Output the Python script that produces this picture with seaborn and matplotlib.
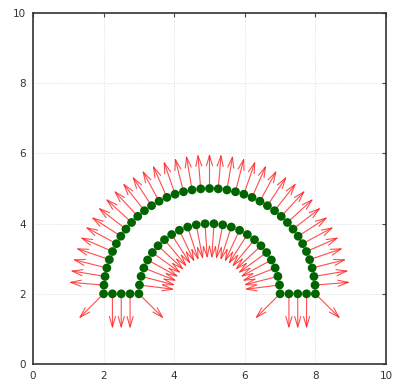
import matplotlib
matplotlib.use("Agg")
import matplotlib.pyplot as plt
import seaborn as sns
import pandas as pd

# boundary points of the arch (outer arc, inner arc, bottom feet)
outer_x = [2.000, 2.010, 2.041, 2.092, 2.163, 2.253, 2.362, 2.488, 2.633, 2.793,
           2.968, 3.157, 3.359, 3.572, 3.795, 4.026, 4.264, 4.506, 4.752, 5.000,
           5.248, 5.494, 5.736, 5.974, 6.205, 6.428, 6.641, 6.843, 7.032, 7.207,
           7.367, 7.512, 7.638, 7.747, 7.837, 7.908, 7.959, 7.990, 8.000]
outer_y = [2.000, 2.248, 2.494, 2.736, 2.974, 3.205, 3.428, 3.641, 3.843, 4.032,
           4.207, 4.367, 4.511, 4.638, 4.747, 4.837, 4.908, 4.959, 4.990, 5.000,
           4.990, 4.959, 4.908, 4.837, 4.747, 4.638, 4.511, 4.367, 4.207, 4.032,
           3.843, 3.641, 3.428, 3.205, 2.974, 2.736, 2.494, 2.248, 2.000]
outer_u = [-0.707, -0.997, -0.986, -0.969, -0.946, -0.916, -0.879, -0.837, -0.789, -0.736,
           -0.677, -0.614, -0.547, -0.476, -0.402, -0.325, -0.245, -0.165, -0.083, 0.000,
           0.083, 0.165, 0.245, 0.325, 0.402, 0.476, 0.547, 0.614, 0.677, 0.736,
           0.789, 0.837, 0.879, 0.916, 0.946, 0.969, 0.986, 0.997, 0.707]
outer_v = [-0.707, 0.083, 0.165, 0.245, 0.325, 0.402, 0.476, 0.547, 0.614, 0.677,
           0.736, 0.789, 0.837, 0.879, 0.916, 0.946, 0.969, 0.986, 0.997, 1.000,
           0.997, 0.986, 0.969, 0.946, 0.916, 0.879, 0.837, 0.789, 0.736, 0.677,
           0.614, 0.547, 0.476, 0.402, 0.325, 0.245, 0.165, 0.083, -0.707]

inner_x = [3.000, 3.016, 3.063, 3.140, 3.247, 3.382, 3.542, 3.725, 3.928, 4.148,
           4.382, 4.625, 4.874, 5.126, 5.375, 5.618, 5.852, 6.072, 6.275, 6.458,
           6.618, 6.753, 6.860, 6.937, 6.984, 7.000]
inner_y = [2.000, 2.251, 2.497, 2.736, 2.964, 3.176, 3.369, 3.541, 3.689, 3.810,
           3.902, 3.965, 3.996, 3.996, 3.965, 3.902, 3.810, 3.689, 3.541, 3.369,
           3.176, 2.964, 2.736, 2.497, 2.251, 2.000]
inner_u = [0.707, 0.992, 0.969, 0.930, 0.876, 0.809, 0.729, 0.637, 0.536, 0.426,
           0.309, 0.187, 0.063, -0.063, -0.187, -0.309, -0.426, -0.536, -0.637, -0.729,
           -0.809, -0.876, -0.930, -0.969, -0.992, -0.707]
inner_v = [-0.707, -0.125, -0.249, -0.368, -0.482, -0.588, -0.685, -0.771, -0.844, -0.905,
           -0.951, -0.982, -0.998, -0.998, -0.982, -0.951, -0.905, -0.844, -0.771, -0.685,
           -0.588, -0.482, -0.368, -0.249, -0.125, -0.707]

foot_x = [2.25, 2.50, 2.75, 7.25, 7.50, 7.75]
foot_y = [2.0, 2.0, 2.0, 2.0, 2.0, 2.0]
foot_u = [0.0, 0.0, 0.0, 0.0, 0.0, 0.0]
foot_v = [-1.0, -1.0, -1.0, -1.0, -1.0, -1.0]

ticks = [0, 2, 4, 6, 8, 10]

df = pd.DataFrame({
    "x": outer_x + inner_x + foot_x,
    "y": outer_y + inner_y + foot_y,
    "u": outer_u + inner_u + foot_u,
    "v": outer_v + inner_v + foot_v,
})

sns.set_style("white")
plt.rcParams["font.family"] = ["DejaVu Sans"]

fig = plt.figure(figsize=(4.13, 3.87), dpi=100)
ax = fig.add_axes([0.0799, 0.0594, 0.8547, 0.9070])

# normal arrows
for _, r in df.iterrows():
    ax.annotate("", xy=(r.x + r.u, r.y + r.v), xytext=(r.x, r.y),
                arrowprops=dict(arrowstyle="->,head_length=0.75,head_width=0.22",
                                color="#ff2020", alpha=0.8, lw=0.8,
                                shrinkA=0, shrinkB=0),
                zorder=2)

sns.scatterplot(data=df, x="x", y="y", ax=ax, color="#006400",
                s=40, edgecolor="none", zorder=3, legend=False)

ax.set_xlim(0, 10)
ax.set_ylim(0, 10)
ax.set_xticks(ticks)
ax.set_yticks(ticks)
ax.set_xlabel("")
ax.set_ylabel("")
ax.grid(True, linestyle=(0, (1, 2)), color="#d0d0d0", lw=0.6)
ax.tick_params(direction="in", length=3, width=0.8, top=True, right=True,
               labelsize=7.5, labelcolor="#333333", color="#444444", pad=5)
for sp in ax.spines.values():
    sp.set_color("#333333")
    sp.set_linewidth(1.2)

fig.savefig("out.png", dpi=100)
